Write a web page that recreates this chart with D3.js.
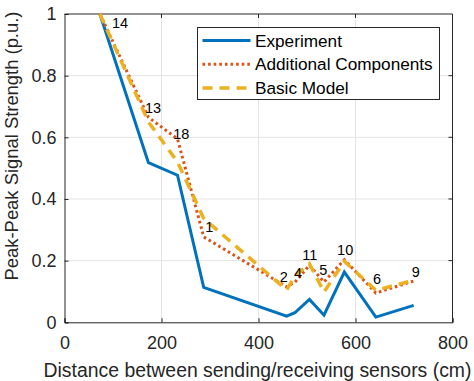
<!DOCTYPE html>
<html>
<head>
<meta charset="utf-8">
<script src="https://cdn.jsdelivr.net/npm/d3@7"></script>
<style>
  body { margin: 0; background: #fff; }
  text { font-family: "Liberation Sans", Arial, Helvetica, sans-serif; fill: #262626; }
</style>
</head>
<body>
<div id="chart"></div>
<script>
// data
var distance   = [73, 173, 233, 287, 458, 475, 505, 535, 577, 642, 720];
var experiment = [1.0, 0.518, 0.477, 0.113, 0.020, 0.031, 0.074, 0.023, 0.163, 0.017, 0.055];
var additional = [1.0, 0.665, 0.595, 0.277, 0.115, 0.130, 0.185, 0.131, 0.203, 0.095, 0.134];
var basic      = [1.0, 0.650, 0.520, 0.337, 0.105, 0.150, 0.190, 0.098, 0.198, 0.104, 0.136];

// point annotations (text, data coords)
var labelText = ["14", "13", "18", "1", "2", "4", "11", "5", "10", "6", "9"];
var labelX = [98, 166, 224, 290, 444, 473, 490, 525, 562, 636, 716];
var labelY = [0.971, 0.695, 0.611, 0.309, 0.147, 0.160, 0.218, 0.170, 0.235, 0.140, 0.163];

var xTicks = [0, 200, 400, 600, 800];
var yTicks = [0, 0.2, 0.4, 0.6, 0.8, 1];
var seriesNames = ["Experiment", "Additional Components", "Basic Model"];

// set the dimensions and margins of the graph
var W = 474, H = 381;
var margin = { top: 14, right: 21.5, bottom: 58.7, left: 64.5 },
    width = W - margin.left - margin.right,
    height = H - margin.top - margin.bottom;

var svg = d3.select("#chart")
    .append("svg")
    .attr("width", W)
    .attr("height", H)
    .append("g")
    .attr("transform", "translate(" + margin.left + "," + margin.top + ")");

var x = d3.scaleLinear().domain([0, 800]).range([0, width]);
var y = d3.scaleLinear().domain([0, 1]).range([height, 0]);

// grid
svg.append("g").selectAll("line")
    .data(xTicks.slice(1, -1)).enter().append("line")
    .attr("x1", d => x(d)).attr("x2", d => x(d))
    .attr("y1", 0).attr("y2", height)
    .attr("stroke", "#e3e3e3").attr("stroke-width", 1);
svg.append("g").selectAll("line")
    .data(yTicks.slice(1, -1)).enter().append("line")
    .attr("y1", d => y(d)).attr("y2", d => y(d))
    .attr("x1", 0).attr("x2", width)
    .attr("stroke", "#e3e3e3").attr("stroke-width", 1);

// axes (ticks pointing inward like matlab)
var xAxis = svg.append("g")
    .attr("transform", "translate(0," + height + ")")
    .call(d3.axisBottom(x).tickValues(xTicks).tickSize(-4).tickPadding(14).tickFormat(d3.format("d")));
var yAxis = svg.append("g")
    .call(d3.axisLeft(y).tickValues(yTicks).tickSize(-4).tickPadding(8).tickFormat(d => d === 0 || d === 1 ? d : d.toFixed(1)));
[xAxis, yAxis].forEach(function (a) {
    a.selectAll("text").style("font-size", "18px").style("fill", "#262626");
    a.selectAll("line").attr("stroke", "#262626");
    a.select(".domain").attr("stroke", "#262626").attr("stroke-width", 1);
});
// top and right edges of the box
svg.append("line").attr("x1", 0).attr("x2", width).attr("y1", 0).attr("y2", 0)
    .attr("stroke", "#262626");
svg.append("line").attr("x1", width).attr("x2", width).attr("y1", 0).attr("y2", height)
    .attr("stroke", "#262626");
svg.append("g").selectAll("line").data(xTicks.slice(1, -1)).enter().append("line")
    .attr("x1", d => x(d)).attr("x2", d => x(d)).attr("y1", 0).attr("y2", 4)
    .attr("stroke", "#262626");
svg.append("g").selectAll("line").data(yTicks.slice(1, -1)).enter().append("line")
    .attr("y1", d => y(d)).attr("y2", d => y(d)).attr("x1", width).attr("x2", width - 4)
    .attr("stroke", "#262626");

// axis labels
svg.append("text")
    .attr("text-anchor", "middle")
    .attr("x", width / 2 - 1)
    .attr("y", height + 55)
    .style("font-size", "19.4px")
    .text("Distance between sending/receiving sensors (cm)");
svg.append("text")
    .attr("text-anchor", "middle")
    .attr("transform", "rotate(-90)")
    .attr("x", -(146 - margin.top))
    .attr("y", -margin.left + 18)
    .style("font-size", "18.4px")
    .text("Peak-Peak Signal Strength (p.u.)");

// lines
var styles = [
    { color: "#0072BD", width: 3, dash: null },
    { color: "#D95319", width: 3, dash: "2.6,3" },
    { color: "#EDB120", width: 3.5, dash: "10,7" }
];
var allSeries = [experiment, additional, basic];
var line = d3.line().x(d => x(d[0])).y(d => y(d[1]));

allSeries.forEach(function (vals, i) {
    svg.append("path")
        .datum(distance.map((d, j) => [d, vals[j]]))
        .attr("d", line)
        .attr("fill", "none")
        .attr("stroke", styles[i].color)
        .attr("stroke-width", styles[i].width)
        .attr("stroke-dasharray", styles[i].dash);
});

// point labels
svg.append("g").selectAll("text")
    .data(labelText).enter().append("text")
    .attr("x", (d, i) => x(labelX[i]))
    .attr("y", (d, i) => y(labelY[i]))
    .attr("dy", "0.35em")
    .style("font-size", "14.5px")
    .style("fill", "#000")
    .text(d => d);

// legend
var lg = svg.append("g").attr("transform", "translate(" + (197.5 - margin.left) + "," + (27.5 - margin.top) + ")");
lg.append("rect")
    .attr("width", 242).attr("height", 72)
    .attr("fill", "#fff").attr("stroke", "#262626").attr("stroke-width", 1);
seriesNames.forEach(function (name, i) {
    var cy = 13 + i * 23.8;
    lg.append("line")
        .attr("x1", 5).attr("x2", 53).attr("y1", cy).attr("y2", cy)
        .attr("stroke", styles[i].color)
        .attr("stroke-width", styles[i].width)
        .attr("stroke-dasharray", styles[i].dash);
    lg.append("text")
        .attr("x", 57.5).attr("y", cy).attr("dy", "0.35em")
        .style("font-size", "17.2px")
        .style("fill", "#000")
        .text(name);
});
</script>
</body>
</html>
